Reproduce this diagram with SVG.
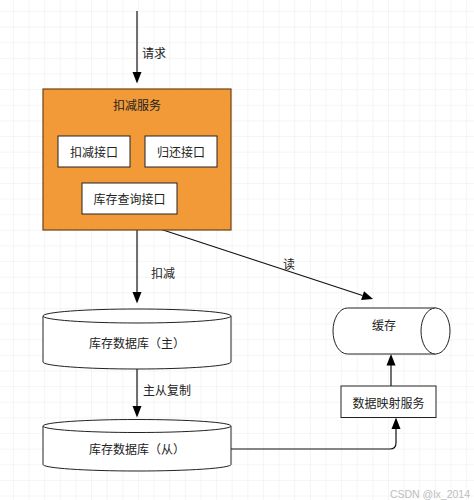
<svg xmlns="http://www.w3.org/2000/svg" width="474" height="500" viewBox="0 0 474 500">
<style>
text{font-family:"Noto Sans CJK SC","Noto Sans",sans-serif;font-size:12px;fill:#222;text-anchor:middle;dominant-baseline:central}
.box{fill:#fff;stroke:#222;stroke-width:1}
.edge{fill:none;stroke:#111;stroke-width:1.2}
.head{fill:#000}
.wm{font-family:"Liberation Sans",sans-serif;font-size:10.5px;fill:#bdbdbd;text-anchor:end}
</style>
<defs>
<pattern id="grid" patternUnits="userSpaceOnUse" x="12.9" y="11" width="15.63" height="15.63">
<path d="M0 0H15.63M0 0V15.63" stroke="#ececec" stroke-width="1" fill="none"/>
</pattern>
</defs>
<rect width="474" height="500" fill="#fff"/>
<rect width="474" height="500" fill="url(#grid)"/>

<g id="connectors">
<path class="edge" d="M137 11V73"/>
<polygon class="head" points="137,83.5 132.5,72 141.5,72"/>
<path class="edge" d="M137 230V292"/>
<polygon class="head" points="137,303.5 132.5,292 141.5,292"/>
<path class="edge" d="M160 229L362.5 295.5"/>
<polygon class="head" points="373,299 361.1,299.9 364,291.3"/>
<path class="edge" d="M137 369V406"/>
<polygon class="head" points="137,417.5 132.5,406 141.5,406"/>
<path class="edge" d="M231 449H390Q396 449 396 443V429"/>
<polygon class="head" points="396,417.5 391.5,429 400.5,429"/>
<path class="edge" d="M391 386V365"/>
<polygon class="head" points="391,354 386.5,365.5 395.5,365.5"/>
<text x="154" y="52">请求</text>
<text x="163" y="272">扣减</text>
<text x="289" y="263">读</text>
<text x="167" y="389">主从复制</text>
</g>

<g id="deduct-service">
<rect x="43" y="89" width="188" height="141" fill="#f29a38" stroke="#6b4216" stroke-width="1.2"/>
<text x="137" y="104">扣减服务</text>
</g>
<g id="deduct-api">
<rect class="box" x="58" y="136" width="72" height="31"/>
<text x="94" y="151.5">扣减接口</text>
</g>
<g id="return-api">
<rect class="box" x="145" y="136" width="72" height="31"/>
<text x="181" y="151.5">归还接口</text>
</g>
<g id="query-api">
<rect class="box" x="82" y="183" width="95" height="31"/>
<text x="129.5" y="198.5">库存查询接口</text>
</g>

<g id="db-master">
<path class="box" d="M43 316A94 7 0 0 1 231 316V362A94 7 0 0 1 43 362Z"/>
<path class="box" fill="none" d="M43 316A94 7 0 0 0 231 316"/>
<text x="137" y="342">库存数据库（主）</text>
</g>
<g id="db-slave">
<path class="box" d="M43 426A94 6.5 0 0 1 231 426V464.5A94 6.5 0 0 1 43 464.5Z"/>
<path class="box" fill="none" d="M43 426A94 6.5 0 0 0 231 426"/>
<text x="137" y="448">库存数据库（从）</text>
</g>

<g id="cache">
<path class="box" d="M347.5 308H435.5A14.5 23 0 0 1 435.5 354H347.5A14.5 23 0 0 1 347.5 308Z"/>
<path class="box" fill="none" d="M435.5 308A14.5 23 0 0 0 435.5 354"/>
<text x="384" y="324">缓存</text>
</g>
<g id="mapping-service">
<rect class="box" x="341" y="386" width="95" height="31.5"/>
<text x="388.5" y="402">数据映射服务</text>
</g>

<text class="wm" x="470" y="494">CSDN @lx_2014</text>
</svg>
